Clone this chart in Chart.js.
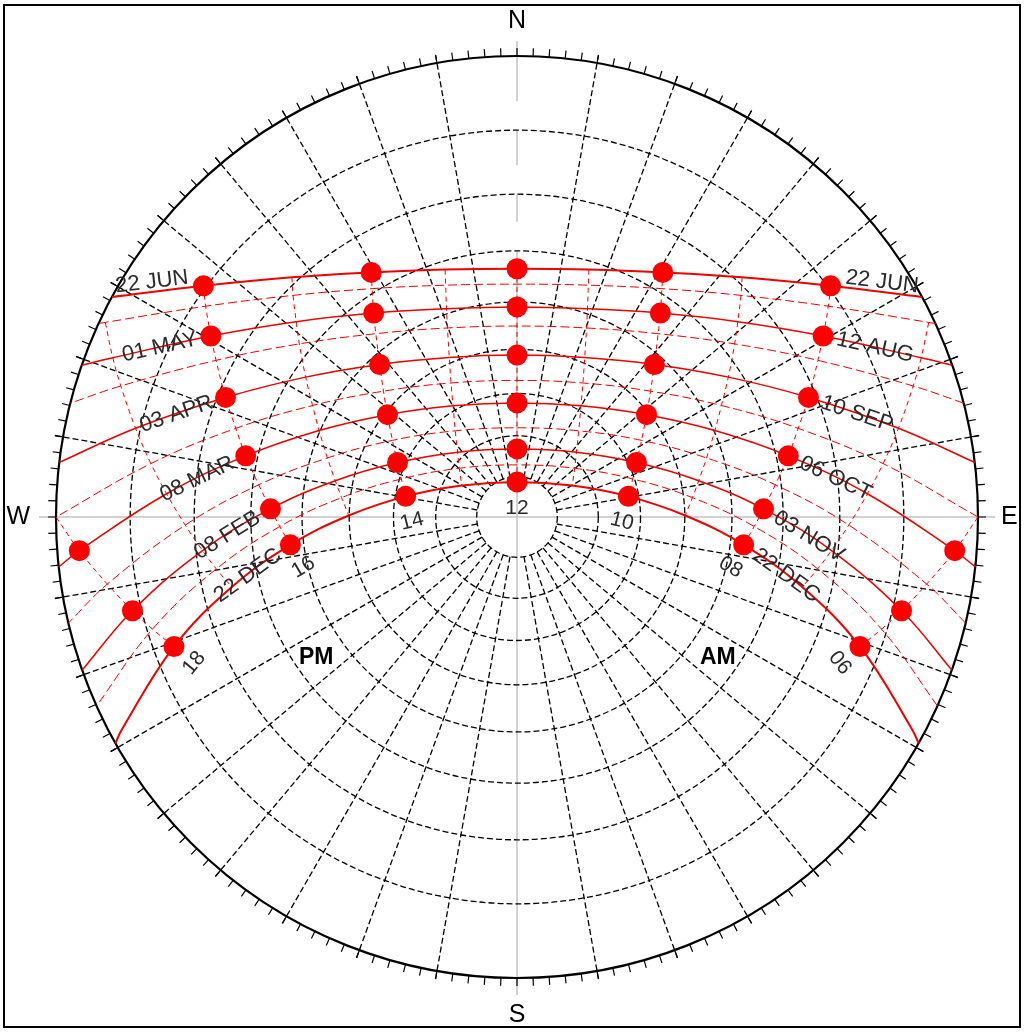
<!DOCTYPE html>
<html>
<head>
<meta charset="utf-8">
<script src="https://cdn.jsdelivr.net/npm/chart.js@4.4.0/dist/chart.umd.min.js"></script>
<style>
  html, body { margin: 0; padding: 0; background: #fff; overflow: hidden; }
  canvas { display: block; }
</style>
</head>
<body>
<canvas id="sunpath" width="1024" height="1034"></canvas>
<script>
// Stereographic sun path diagram: zenith in the middle, north up, east right.

const hours = [5, 6, 7, 8, 9, 10, 11, 12, 13, 14, 15, 16, 17, 18, 19];

// one row per day curve, top (22 JUN) to bottom (22 DEC); dashed rows are the unlabelled in-between days
const pathDashed = [false, true, false, true, false, true, false, true, false, true, false];
const leftLabels = ['22 JUN', null, '01 MAY', null, '03 APR', null, '08 MAR', null, '08 FEB', null, '22 DEC'];
const rightLabels = ['22 JUN', null, '12 AUG', null, '10 SEP', null, '06 OCT', null, '03 NOV', null, '22 DEC'];

const n = null;
const sunAzimuth = [
    [n, n, n, 53.6, 43.2, 30.8, 16.2, 0, 343.8, 329.2, 316.8, 306.4, n, n, n],
    [n, n, 64.7, 55.9, 45.3, 32.4, 17.1, 0, 342.9, 327.6, 314.7, 304.1, 295.3, n, n],
    [n, n, 68.5, 59.4, 48.5, 35.1, 18.7, 0, 341.3, 324.9, 311.5, 300.6, 291.5, n, n],
    [n, n, 71.7, 62.5, 51.5, 37.6, 20.2, 0, 339.8, 322.4, 308.5, 297.5, 288.3, n, n],
    [n, n, 76.9, 67.7, 56.5, 42.0, 23.0, 0, 337.0, 318.0, 303.5, 292.3, 283.1, n, n],
    [n, 90.0, 81.7, 72.5, 61.4, 46.7, 26.2, 0, 333.8, 313.3, 298.6, 287.5, 278.3, 270.0, n],
    [n, 94.4, 86.2, 77.3, 66.4, 51.7, 29.9, 0, 330.1, 308.3, 293.6, 282.7, 273.8, 265.6, n],
    [n, 99.3, 91.4, 82.9, 72.7, 58.4, 35.6, 0, 324.4, 301.6, 287.3, 277.1, 268.6, 260.7, n],
    [n, 103.7, 96.1, 88.1, 78.7, 65.5, 42.5, 0, 317.5, 294.5, 281.3, 271.9, 263.9, 256.3, n],
    [n, 107.1, 99.8, 92.3, 83.7, 71.8, 49.8, 0, 310.2, 288.2, 276.3, 267.7, 260.2, 252.9, n],
    [118.3, 110.7, 103.8, 97.0, 89.5, 79.5, 60.3, 0, 299.7, 280.5, 270.5, 263.0, 256.2, 249.3, 241.7],
];
const sunAltitude = [
    [n, n, n, 9.6, 19.0, 26.6, 31.6, 33.4, 31.6, 26.6, 19.0, 9.6, n, n, n],
    [n, n, 0.7, 11.6, 21.3, 29.2, 34.5, 36.4, 34.5, 29.2, 21.3, 11.6, 0.7, n, n],
    [n, n, 3.4, 14.7, 24.8, 33.2, 39.0, 41.0, 39.0, 33.2, 24.8, 14.7, 3.4, n, n],
    [n, n, 5.7, 17.3, 27.8, 36.7, 42.8, 45.0, 42.8, 36.7, 27.8, 17.3, 5.7, n, n],
    [n, n, 9.3, 21.3, 32.4, 42.0, 48.8, 51.3, 48.8, 42.0, 32.4, 21.3, 9.3, n, n],
    [n, 0, 12.5, 24.8, 36.4, 46.6, 54.1, 57.0, 54.1, 46.6, 36.4, 24.8, 12.5, 0, n],
    [n, 2.8, 15.4, 27.8, 39.8, 50.6, 58.9, 62.2, 58.9, 50.6, 39.8, 27.8, 15.4, 2.8, n],
    [n, 6.0, 18.5, 31.1, 43.4, 54.8, 64.1, 68.1, 64.1, 54.8, 43.4, 31.1, 18.5, 6.0, n],
    [n, 8.7, 21.1, 33.7, 46.2, 58.2, 68.4, 73.2, 68.4, 58.2, 46.2, 33.7, 21.1, 8.7, n],
    [n, 10.8, 23.0, 35.5, 48.1, 60.4, 71.4, 77.1, 71.4, 60.4, 48.1, 35.5, 23.0, 10.8, n],
    [1.5, 13.0, 25.0, 37.3, 49.9, 62.4, 74.3, 81.3, 74.3, 62.4, 49.9, 37.3, 25.0, 13.0, 1.5],
];
// where each day curve meets the horizon (null = already on the 06/18 point)
const riseAzimuth = [61.5, 65.2, 70.8, 75.7, 83.2, n, 96.2, 103.3, 109.4, 114.2, 119.4];
const setAzimuth = [298.5, 294.8, 289.2, 284.3, 276.8, n, 263.8, 256.7, 250.6, 245.8, 240.6];

const dotHours = [6, 8, 10, 12, 14, 16, 18];
const altitudeRings = [10, 20, 30, 40, 50, 60, 70, 80];
const azimuthStep = 10;
const tickStep = 2;
const compass = [['N', 0, 1.075], ['E', 90, 1.068], ['S', 180, 1.08], ['W', 270, 1.082]];
const halves = [['PM', 235, 34], ['AM', 125, 34]];

const RED = '#ee0000';
const DEG = Math.PI / 180;
const dateLabelLift = [10, 0, 0, 0, 0, 0, 0, 0, 0, 0, 0];

// plane position for (azimuth, altitude), horizon radius = 1
function project(az, alt) {
    const r = Math.tan((90 - alt) * DEG / 2);
    return { x: r * Math.sin(az * DEG), y: r * Math.cos(az * DEG) };
}

// day curves
const pathSets = sunAzimuth.map((azs, i) => {
    const pts = [];
    if (riseAzimuth[i] != null) pts.push(project(riseAzimuth[i], 0));
    azs.forEach((az, k) => { if (az != null) pts.push(project(az, sunAltitude[i][k])); });
    if (setAzimuth[i] != null) pts.push(project(setAzimuth[i], 0));
    const solstice = i === 0 || i === sunAzimuth.length - 1;
    return {
        data: pts, showLine: true, pointRadius: 0, tension: 0.4,
        borderColor: RED,
        borderWidth: pathDashed[i] ? 1 : (solstice ? 2 : 1.5),
        borderDash: pathDashed[i] ? [9, 4] : [],
        order: 2,
    };
});

// hour lines, one per hour, joining the days
const hourSets = hours.map((h, k) => {
    const pts = [];
    sunAzimuth.forEach((azs, i) => { if (azs[k] != null) pts.push(project(azs[k], sunAltitude[i][k])); });
    if (pts.length < 2) return null;
    return {
        data: pts, showLine: true, pointRadius: 0, tension: 0.4,
        borderColor: RED, borderWidth: 1, borderDash: [5, 4], order: 3,
    };
}).filter(Boolean);

// dots on the labelled days every two hours
const dotPts = [];
sunAzimuth.forEach((azs, i) => {
    if (pathDashed[i]) return;
    hours.forEach((h, k) => {
        if (dotHours.includes(h) && azs[k] != null) dotPts.push(project(azs[k], sunAltitude[i][k]));
    });
});
const dotSet = {
    data: dotPts, showLine: false, pointRadius: 10.5, pointHoverRadius: 10.5,
    pointBackgroundColor: '#ff0000', pointBorderWidth: 0, order: 1,
};

const skyGrid = {
    id: 'skyGrid',
    beforeDatasetsDraw(chart) {
        const { ctx, scales: { x, y } } = chart;
        const cx = x.getPixelForValue(0), cy = y.getPixelForValue(0);
        const R = x.getPixelForValue(1) - cx;
        const ringR = alt => R * Math.tan((90 - alt) * DEG / 2);
        ctx.save();

        // grey N-S / E-W axes, north half broken next to each ring
        ctx.strokeStyle = '#c4c4c4';
        ctx.lineWidth = 1.5;
        ctx.beginPath();
        ctx.moveTo(cx - R - 17, cy); ctx.lineTo(cx + R + 17, cy);
        ctx.moveTo(cx, cy); ctx.lineTo(cx, cy + R + 17);
        let top = R + 15;
        [10, 20, 30].forEach(alt => {
            const r = ringR(alt);
            ctx.moveTo(cx, cy - top); ctx.lineTo(cx, cy - r - 29);
            top = r;
        });
        ctx.moveTo(cx, cy - top); ctx.lineTo(cx, cy);
        ctx.stroke();

        // altitude rings
        ctx.strokeStyle = '#000';
        ctx.lineWidth = 1.3;
        ctx.setLineDash([6, 3]);
        altitudeRings.forEach(alt => {
            ctx.beginPath();
            ctx.arc(cx, cy, ringR(alt), 0, 2 * Math.PI);
            ctx.stroke();
        });

        // azimuth spokes
        const r0 = ringR(altitudeRings[altitudeRings.length - 1]);
        for (let az = azimuthStep; az < 360; az += azimuthStep) {
            if (az % 90 === 0) continue;
            const s = Math.sin(az * DEG), c = Math.cos(az * DEG);
            ctx.beginPath();
            ctx.moveTo(cx + r0 * s, cy - r0 * c);
            ctx.lineTo(cx + (R + 10) * s, cy - (R + 10) * c);
            ctx.stroke();
        }
        ctx.setLineDash([]);

        // horizon + ticks
        ctx.lineWidth = 2.2;
        ctx.beginPath();
        ctx.arc(cx, cy, R, 0, 2 * Math.PI);
        ctx.stroke();
        ctx.lineWidth = 1.2;
        ctx.beginPath();
        for (let az = 0; az < 360; az += tickStep) {
            const s = Math.sin(az * DEG), c = Math.cos(az * DEG);
            ctx.moveTo(cx + R * s, cy - R * c);
            ctx.lineTo(cx + (R + 8) * s, cy - (R + 8) * c);
        }
        ctx.stroke();
        ctx.restore();
    },
};

const diagramLabels = {
    id: 'diagramLabels',
    afterDatasetsDraw(chart) {
        const { ctx, scales: { x, y } } = chart;
        const toPx = p => ({ x: x.getPixelForValue(p.x), y: y.getPixelForValue(p.y) });
        const sun = (i, k) => toPx(project(sunAzimuth[i][k], sunAltitude[i][k]));

        function along(a, b, text, align, gap, lift) {
            let dx = b.x - a.x, dy = b.y - a.y;
            const len = Math.hypot(dx, dy);
            dx /= len; dy /= len;
            let ang = Math.atan2(dy, dx);
            if (align === 'right') ang += Math.PI;
            ctx.save();
            ctx.translate(a.x + dx * gap, a.y + dy * gap);
            ctx.rotate(ang);
            ctx.textAlign = align;
            ctx.textBaseline = 'middle';
            ctx.fillText(text, 0, -lift);
            ctx.restore();
        }

        ctx.save();
        ctx.fillStyle = '#2a2a2a';
        ctx.font = '22px "Liberation Sans", Arial, sans-serif';

        // date labels beside the 16:00 and 08:00 dots
        const k16 = hours.indexOf(16), k8 = hours.indexOf(8);
        sunAzimuth.forEach((azs, i) => {
            if (leftLabels[i]) {
                const a = sun(i, k16);
                const b = azs[k16 + 1] != null ? sun(i, k16 + 1) : toPx(project(setAzimuth[i], 0));
                along(a, b, leftLabels[i], 'right', 14, dateLabelLift[i]);
            }
            if (rightLabels[i]) {
                const a = sun(i, k8);
                const b = azs[k8 - 1] != null ? sun(i, k8 - 1) : toPx(project(riseAzimuth[i], 0));
                along(a, b, rightLabels[i], 'left', 14, dateLabelLift[i]);
            }
        });

        // hour labels past the last day, across the hour line
        ctx.font = '21px "Liberation Sans", Arial, sans-serif';
        const last = sunAzimuth.length - 1;
        dotHours.forEach(h => {
            const k = hours.indexOf(h);
            const a = sun(last, k), b = sun(last - 1, k);
            let dx = a.x - b.x, dy = a.y - b.y;
            const len = Math.hypot(dx, dy);
            dx /= len; dy /= len;
            ctx.save();
            ctx.translate(a.x + dx * 26, a.y + dy * 26);
            ctx.rotate(Math.atan2(dy, dx) - Math.PI / 2);
            ctx.textAlign = 'center';
            ctx.textBaseline = 'middle';
            ctx.fillText(String(h).padStart(2, '0'), 0, 0);
            ctx.restore();
        });

        ctx.fillStyle = '#000';
        ctx.textAlign = 'center';
        ctx.textBaseline = 'middle';
        ctx.font = 'bold 23px "Liberation Sans", Arial, sans-serif';
        halves.forEach(([t, az, alt]) => {
            const p = toPx(project(az, alt));
            ctx.fillText(t, p.x, p.y);
        });

        ctx.font = '25px "Liberation Sans", Arial, sans-serif';
        compass.forEach(([t, az, r]) => {
            const p = toPx({ x: r * Math.sin(az * DEG), y: r * Math.cos(az * DEG) });
            ctx.fillText(t, p.x, p.y);
        });

        // frame
        ctx.strokeStyle = '#000';
        ctx.lineWidth = 2;
        ctx.strokeRect(4, 5, chart.width - 8, chart.height - 12);
        ctx.restore();
    },
};

new Chart(document.getElementById('sunpath'), {
    type: 'scatter',
    data: { datasets: [dotSet, ...pathSets, ...hourSets] },
    options: {
        responsive: false,
        animation: false,
        events: [],
        layout: { padding: 0, autoPadding: false },
        plugins: { legend: { display: false }, tooltip: { enabled: false } },
        scales: {
            x: { type: 'linear', display: false, min: -1.1215, max: 1.0998 },
            y: { type: 'linear', display: false, min: -1.1215, max: 1.1215 },
        },
    },
    plugins: [skyGrid, diagramLabels],
});
</script>
</body>
</html>
